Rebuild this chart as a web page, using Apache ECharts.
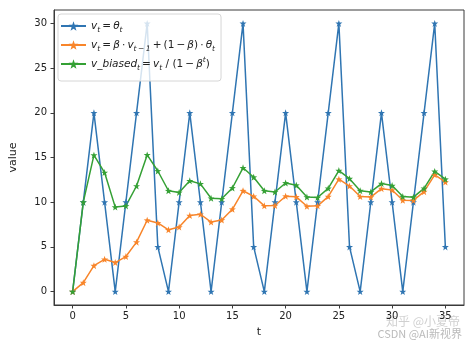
<!DOCTYPE html>
<html>
<head>
<meta charset="utf-8">
<script src="https://cdn.jsdelivr.net/npm/echarts@6/dist/echarts.min.js"></script>
<style>
  html, body { margin: 0; padding: 0; background: #fff; }
  #chart { width: 474px; height: 343px; }
</style>
</head>
<body>
<div id="chart"></div>
<script>
// time steps t = 0..35
const steps = [0,1,2,3,4,5,6,7,8,9,10,11,12,13,14,15,16,17,18,19,20,21,22,23,24,25,26,27,28,29,30,31,32,33,34,35];

// raw observations theta_t
const theta = [0,10,20,10,0,10,20,30,5,0,10,20,10,0,10,20,30,5,0,10,20,10,0,10,20,30,5,0,10,20,10,0,10,20,30,5];

// exponentially weighted average v_t
const ema = [0,1.00,2.90,3.61,3.25,3.92,5.53,7.98,7.68,6.91,7.22,8.50,8.65,7.78,8.01,9.21,11.28,10.66,9.59,9.63,10.67,10.60,9.54,9.59,10.63,12.57,11.81,10.63,10.57,11.51,11.36,10.22,10.20,11.18,13.06,12.26];

// bias-corrected average
const corrected = [0,10.00,15.26,13.32,9.45,9.58,11.81,15.29,13.49,11.28,11.09,12.39,12.05,10.44,10.38,11.59,13.85,12.79,11.28,11.14,12.15,11.90,10.58,10.52,11.55,13.54,12.63,11.29,11.15,12.08,11.86,10.63,10.56,11.54,13.44,12.57];

const xTicks = [0,5,10,15,20,25,30,35];
const yTicks = [0,5,10,15,20,25,30];

const seriesNames = ['v_t = theta_t', 'v_t = beta*v_(t-1) + (1-beta)*theta_t', 'v_biased_t = v_t / (1-beta^t)'];
// thin spaces around operators, as in typeset formulas
const legendRich = {
  [seriesNames[0]]: '{i|v}{s|t}{n|\u2009=\u2009}{i|θ}{s|t}',
  [seriesNames[1]]: '{i|v}{s|t}{n|\u2009=\u2009}{i|β}{n|\u2009·\u2009}{i|v}{s|t\u2009−\u20091}{n|\u2009+\u2009(1\u2009−\u2009}{i|β}{n|)\u2009·\u2009}{i|θ}{s|t}',
  [seriesNames[2]]: '{i|v_biased}{s|t}{n|\u2009=\u2009}{i|v}{s|t}{n| / (1\u2009−\u2009}{i|β}{p|t}{n|)}'
};

const colors = ['#2f75b2', '#f8852a', '#34a034'];
const star = 'path://M0,-10 L2.35,-3.24 L9.51,-3.09 L3.8,1.24 L5.88,8.09 L0,4 L-5.88,8.09 L-3.8,1.24 L-9.51,-3.09 L-2.35,-3.24 Z';

const font = 'DejaVu Sans';
const chart = echarts.init(document.getElementById('chart'), null, { renderer: 'canvas' });

function makeSeries(name, values, color) {
  return {
    name: name,
    type: 'line',
    data: steps.map((t, i) => [t, values[i]]),
    symbol: star,
    symbolSize: 7,
    showAllSymbol: true,
    lineStyle: { color: color, width: 1.5 },
    itemStyle: { color: color },
    emphasis: { disabled: true },
    animation: false
  };
}

const txt = '#222';
chart.setOption({
  animation: false,
  color: colors,
  grid: {
    left: 52, right: 10, top: 10, bottom: 37,
    show: true, borderColor: '#3a3a3a', borderWidth: 1, backgroundColor: '#fff'
  },
  legend: {
    orient: 'vertical',
    left: 58, top: 14,
    padding: [4, 6, 9, 2],
    itemWidth: 25, itemHeight: 12, itemGap: 3,
    backgroundColor: 'rgba(255,255,255,0.8)',
    borderColor: '#d6d6d6', borderWidth: 1, borderRadius: 3,
    data: seriesNames,
    formatter: name => legendRich[name],
    textStyle: {
      fontFamily: font, fontSize: 10.5, color: txt, lineHeight: 16,
      rich: {
        i: { fontFamily: font, fontStyle: 'italic', fontSize: 10.5, color: txt, lineHeight: 16 },
        n: { fontFamily: font, fontSize: 10.5, color: txt, lineHeight: 16 },
        s: { fontFamily: font, fontStyle: 'italic', fontSize: 7.5, color: txt, verticalAlign: 'bottom', lineHeight: 16 },
        p: { fontFamily: font, fontStyle: 'italic', fontSize: 7.5, color: txt, verticalAlign: 'top', lineHeight: 16 }
      }
    }
  },
  xAxis: {
    type: 'value', min: -1.75, max: 36.75,
    name: 't', nameLocation: 'middle', nameGap: 22,
    nameTextStyle: { fontFamily: font, fontSize: 11, color: txt },
    axisLine: { show: true, onZero: false, lineStyle: { color: '#3a3a3a' } },
    axisTick: { show: true, length: 3.5, customValues: xTicks, lineStyle: { color: '#3a3a3a' } },
    axisLabel: { customValues: xTicks, margin: 6, fontFamily: font, fontSize: 10, color: txt },
    splitLine: { show: false }
  },
  yAxis: {
    type: 'value', min: -1.5, max: 31.5,
    name: 'value', nameLocation: 'middle', nameGap: 35, nameRotate: 90,
    nameTextStyle: { fontFamily: font, fontSize: 11, color: txt },
    axisLine: { show: true, onZero: false, lineStyle: { color: '#3a3a3a' } },
    axisTick: { show: true, length: 3.5, customValues: yTicks, lineStyle: { color: '#3a3a3a' } },
    axisLabel: { customValues: yTicks, margin: 7, fontFamily: font, fontSize: 10, color: txt },
    splitLine: { show: false }
  },
  graphic: [
    { type: 'text', right: 14, bottom: 16, silent: true,
      style: { text: '知乎 @小夏帝', fontFamily: 'Noto Sans CJK SC', fontSize: 12, fill: 'rgba(150,150,150,0.45)' } },
    { type: 'text', right: 12, bottom: 4, silent: true,
      style: { text: 'CSDN @AI新视界', fontFamily: 'Noto Sans CJK SC', fontSize: 11, fill: 'rgba(140,140,140,0.6)' } }
  ],
  series: [
    makeSeries(seriesNames[0], theta, colors[0]),
    makeSeries(seriesNames[1], ema, colors[1]),
    makeSeries(seriesNames[2], corrected, colors[2])
  ]
});
</script>
</body>
</html>
